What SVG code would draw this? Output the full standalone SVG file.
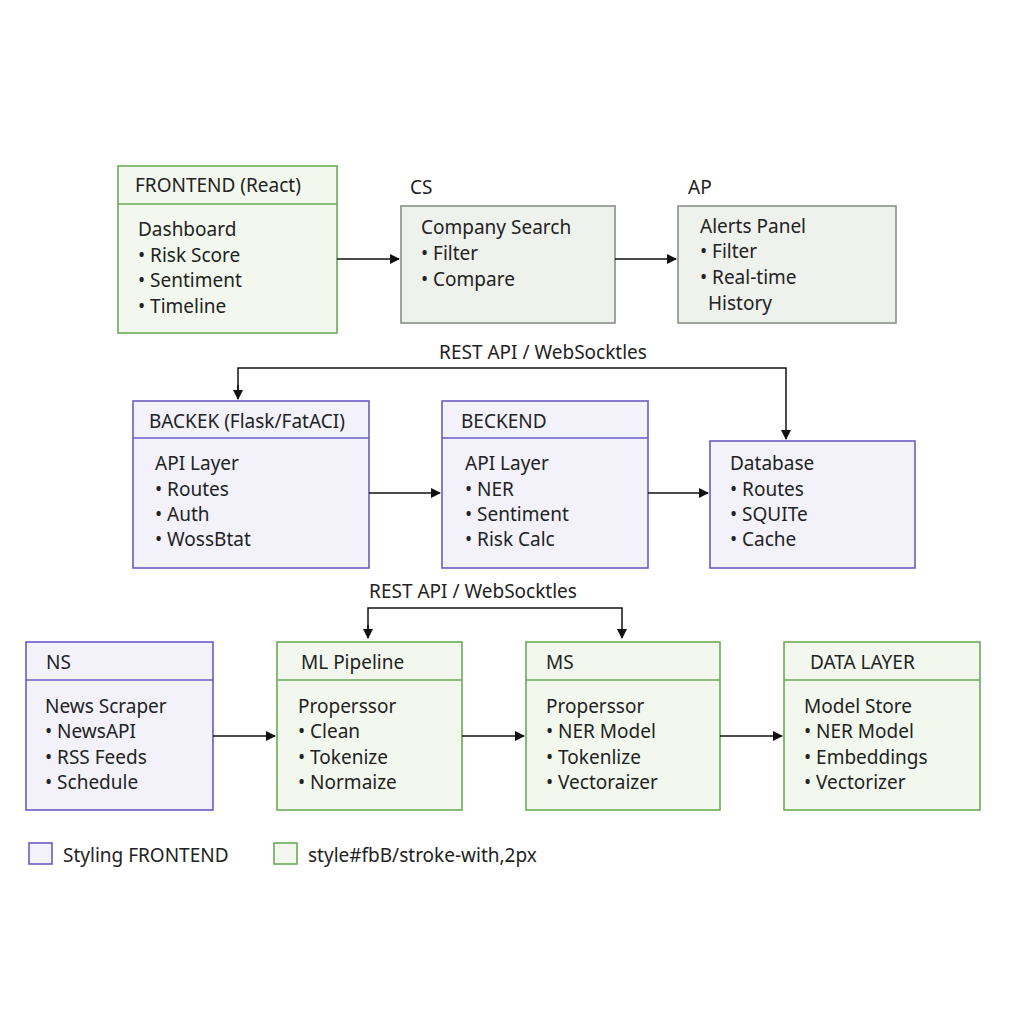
<svg xmlns="http://www.w3.org/2000/svg" width="1024" height="1024" viewBox="0 0 1024 1024">
<defs>
<marker id="ah" markerWidth="10" markerHeight="10" refX="9" refY="5" orient="auto" markerUnits="userSpaceOnUse"><path d="M0,0 L10,5 L0,10 z" fill="#111"/></marker>
<style>
text{font-family:"Noto Sans","Liberation Sans",sans-serif;font-size:19px;fill:#222}
.g{fill:#f3f8ee;stroke:#6aab58;stroke-width:1.6}
.p{fill:#f3f2fb;stroke:#6a5cc4;stroke-width:1.6}
.c{fill:#eef1ec;stroke:#8a8f8a;stroke-width:1.6}
.gl{stroke:#6aab58;stroke-width:1.4}
.pl{stroke:#6a5cc4;stroke-width:1.4}
.e{fill:none;stroke:#111;stroke-width:1.5}
</style>
</defs>
<rect width="1024" height="1024" fill="#fff"/>
<g id="frontend"><rect class="g" x="118" y="166" width="219" height="167"/><line class="gl" x1="118" y1="204" x2="337" y2="204"/>
<text x="135" y="192">FRONTEND (React)</text><text x="138" y="236">Dashboard</text><text x="138" y="262">• Risk Score</text><text x="138" y="287">• Sentiment</text><text x="138" y="313">• Timeline</text></g>
<g id="cs"><text x="410" y="194">CS</text><rect class="c" x="401" y="206" width="214" height="117"/>
<text x="421" y="234">Company Search</text><text x="421" y="260">• Filter</text><text x="421" y="286">• Compare</text></g>
<g id="ap"><text x="688" y="194">AP</text><rect class="c" x="678" y="206" width="218" height="117"/>
<text x="700" y="233">Alerts Panel</text><text x="700" y="258">• Filter</text><text x="700" y="284">• Real-time</text><text x="708" y="310">History</text></g>
<g id="backek"><rect class="p" x="133" y="401" width="236" height="167"/><line class="pl" x1="133" y1="438" x2="369" y2="438"/>
<text x="149" y="428">BACKEK (Flask/FatACI)</text><text x="155" y="470">API Layer</text><text x="155" y="496">• Routes</text><text x="155" y="521">• Auth</text><text x="155" y="546">• WossBtat</text></g>
<g id="beckend"><rect class="p" x="442" y="401" width="206" height="167"/><line class="pl" x1="442" y1="438" x2="648" y2="438"/>
<text x="461" y="428">BECKEND</text><text x="465" y="470">API Layer</text><text x="465" y="496">• NER</text><text x="465" y="521">• Sentiment</text><text x="465" y="546">• Risk Calc</text></g>
<g id="database"><rect class="p" x="710" y="441" width="205" height="127"/>
<text x="730" y="470">Database</text><text x="730" y="496">• Routes</text><text x="730" y="521">• SQUITe</text><text x="730" y="546">• Cache</text></g>
<g id="ns"><rect class="p" x="26" y="642" width="187" height="168"/><line class="pl" x1="26" y1="680" x2="213" y2="680"/>
<text x="46" y="669">NS</text><text x="45" y="713">News Scraper</text><text x="45" y="738">• NewsAPI</text><text x="45" y="764">• RSS Feeds</text><text x="45" y="789">• Schedule</text></g>
<g id="ml"><rect class="g" x="277" y="642" width="185" height="168"/><line class="gl" x1="277" y1="680" x2="462" y2="680"/>
<text x="301" y="669">ML Pipeline</text><text x="298" y="713">Properssor</text><text x="298" y="738">• Clean</text><text x="298" y="764">• Tokenize</text><text x="298" y="789">• Normaize</text></g>
<g id="ms"><rect class="g" x="526" y="642" width="194" height="168"/><line class="gl" x1="526" y1="680" x2="720" y2="680"/>
<text x="546" y="669">MS</text><text x="546" y="713">Properssor</text><text x="546" y="738">• NER Model</text><text x="546" y="764">• Tokenlize</text><text x="546" y="789">• Vectoraizer</text></g>
<g id="data"><rect class="g" x="784" y="642" width="196" height="168"/><line class="gl" x1="784" y1="680" x2="980" y2="680"/>
<text x="810" y="669">DATA LAYER</text><text x="804" y="713">Model Store</text><text x="804" y="738">• NER Model</text><text x="804" y="764">• Embeddings</text><text x="804" y="789">• Vectorizer</text></g>
<g id="connectors">
<line class="e" x1="337" y1="259" x2="399" y2="259" marker-end="url(#ah)"/>
<line class="e" x1="615" y1="259" x2="676" y2="259" marker-end="url(#ah)"/>
<text x="543" y="359" text-anchor="middle">REST API / WebSocktles</text>
<path class="e" d="M238,399 V368 H786 V439" marker-end="url(#ah)"/>
<line class="e" x1="238" y1="385" x2="238" y2="399" marker-end="url(#ah)"/>
<line class="e" x1="369" y1="493" x2="440" y2="493" marker-end="url(#ah)"/>
<line class="e" x1="648" y1="493" x2="708" y2="493" marker-end="url(#ah)"/>
<text x="473" y="598" text-anchor="middle">REST API / WebSocktles</text>
<path class="e" d="M368,638 V608 H622 V638" marker-end="url(#ah)"/>
<line class="e" x1="368" y1="625" x2="368" y2="638" marker-end="url(#ah)"/>
<line class="e" x1="213" y1="736" x2="275" y2="736" marker-end="url(#ah)"/>
<line class="e" x1="462" y1="736" x2="524" y2="736" marker-end="url(#ah)"/>
<line class="e" x1="720" y1="736" x2="782" y2="736" marker-end="url(#ah)"/>
</g>
<g id="legend"><rect class="p" x="29" y="843" width="23" height="21"/><text x="63" y="862">Styling FRONTEND</text>
<rect class="g" x="274" y="843" width="23" height="21"/><text x="308" y="862">style#fbB/stroke-with,2px</text></g>
</svg>
